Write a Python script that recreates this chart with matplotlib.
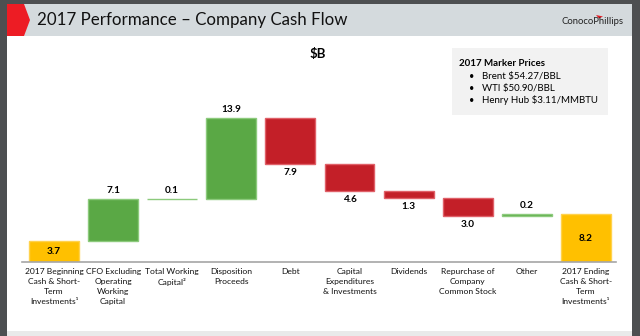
import matplotlib
matplotlib.use('Agg')
import matplotlib.pyplot as plt
from matplotlib.patches import Rectangle, Polygon
import numpy as np

plt.rcParams['font.family'] = ['Lato', 'DejaVu Sans']

# 2017 cash flow bridge, $B
categories = ['2017 Beginning\nCash & Short-\nTerm\nInvestments¹',
              'CFO Excluding\nOperating\nWorking\nCapital',
              'Total Working\nCapital²',
              'Disposition\nProceeds',
              'Debt',
              'Capital\nExpenditures\n& Investments',
              'Dividends',
              'Repurchase of\nCompany\nCommon Stock',
              'Other',
              '2017 Ending\nCash & Short-\nTerm\nInvestments¹']
changes = [3.7, 7.1, 0.1, 13.9, -7.9, -4.6, -1.3, -3.0, 0.2, 8.2]
kinds = ['total', 'step', 'step', 'step', 'step', 'step', 'step', 'step', 'step', 'total']

marker_title = '2017 Marker Prices'
marker_prices = ['Brent $54.27/BBL', 'WTI $50.90/BBL', 'Henry Hub $3.11/MMBTU']

W, H = 640, 336
fig = plt.figure(figsize=(W / 100, H / 100), dpi=100)
fig.patch.set_facecolor('white')

def px(x, y, w, h):
    # pixel box (from top-left) -> figure fraction rect
    return (x / W, 1 - (y + h) / H, w / W, h / H)

def frect(x, y, w, h, color, z=0):
    l, b, ww, hh = px(x, y, w, h)
    fig.add_artist(Rectangle((l, b), ww, hh, transform=fig.transFigure,
                             facecolor=color, edgecolor='none', zorder=z))

# slide frame
frect(0, 0, W, 4, '#4d4f51')
frect(0, 0, 7, H, '#4d4f51')
frect(632, 0, 8, H, '#4d4f51')
frect(7, 4, 625, 32, '#d4dadd')
frect(7, 331, 625, 5, '#e9eaea')
arrow = [(7, 4), (24, 4), (30, 20), (24, 36), (7, 36)]
fig.add_artist(Polygon([(x / W, 1 - y / H) for x, y in arrow], closed=True,
                       transform=fig.transFigure, facecolor='#ed1c24',
                       edgecolor='none', zorder=1))
fig.text(37 / W, 1 - 20 / H, '2017 Performance – Company Cash Flow',
         fontsize=12.2, va='center', ha='left', color='#111111')
fig.text(593 / W, 1 - 21 / H, 'ConocoPhillips', fontsize=6.8, va='center',
         ha='center', color='#222222')
fig.add_artist(Polygon([(596 / W, 1 - 15 / H), (603 / W, 1 - 16.5 / H),
                        (599 / W, 1 - 18.5 / H)], closed=True,
                       transform=fig.transFigure, facecolor='#e31b23',
                       edgecolor='none'))

# chart axes
ax = fig.add_axes(px(22, 40, 594, 222))
x = np.arange(len(changes))
spacing = 59.1
ax.set_xlim(-(54 - 22) / spacing, -(54 - 22) / spacing + 594 / spacing)
ax.set_ylim(0, 222 / 5.8)

running = 0.0
for i, (v, k) in enumerate(zip(changes, kinds)):
    if k == 'total':
        bottom, height = 0, v
        color, edge = '#ffc000', '#ffd24d'
        running = v
    else:
        if v >= 0:
            bottom, height = running, v
            color, edge = '#5aa845', '#8cca7c'
        else:
            bottom, height = running + v, -v
            color, edge = '#c31f28', '#e06068'
        running += v
    ax.bar(x[i], height, bottom=bottom, width=0.846, color=color,
           edgecolor=edge, linewidth=1.0)
    label = '%.1f' % abs(v)
    if k == 'total':
        ax.text(x[i], bottom + height / 2, label, ha='center', va='center',
                fontsize=7.2, fontweight='bold')
    elif v >= 0:
        ax.annotate(label, (x[i], bottom + height), xytext=(0, 3),
                    textcoords='offset points', ha='center', va='bottom',
                    fontsize=7.2, fontweight='bold')
    else:
        ax.annotate(label, (x[i], bottom), xytext=(0, -3),
                    textcoords='offset points', ha='center', va='top',
                    fontsize=7.2, fontweight='bold')

for s in ['top', 'right', 'left']:
    ax.spines[s].set_visible(False)
ax.spines['bottom'].set_color('#a6a6a6')
ax.spines['bottom'].set_linewidth(1.2)
ax.set_yticks([])
ax.set_xticks(x)
ax.set_xticklabels(categories, fontsize=6.1, linespacing=1.5, color='#111111')
ax.tick_params(axis='x', length=0, pad=4)
ax.patch.set_alpha(0)

fig.text(318 / W, 1 - 54 / H, '$B', fontsize=9.5, fontweight='bold',
         ha='center', va='center')

# marker price box
frect(452, 48, 156, 67, '#f2f2f2', z=1)
fig.text(459 / W, 1 - 64 / H, marker_title, fontsize=7, fontweight='bold',
         va='center', zorder=2)
for j, t in enumerate(marker_prices):
    yy = 1 - (76 + j * 12) / H
    fig.text(469 / W, yy, '•', fontsize=6.5, va='center', zorder=2)
    fig.text(482 / W, yy, t, fontsize=7, va='center', zorder=2)

fig.savefig('out.png', dpi=100)
